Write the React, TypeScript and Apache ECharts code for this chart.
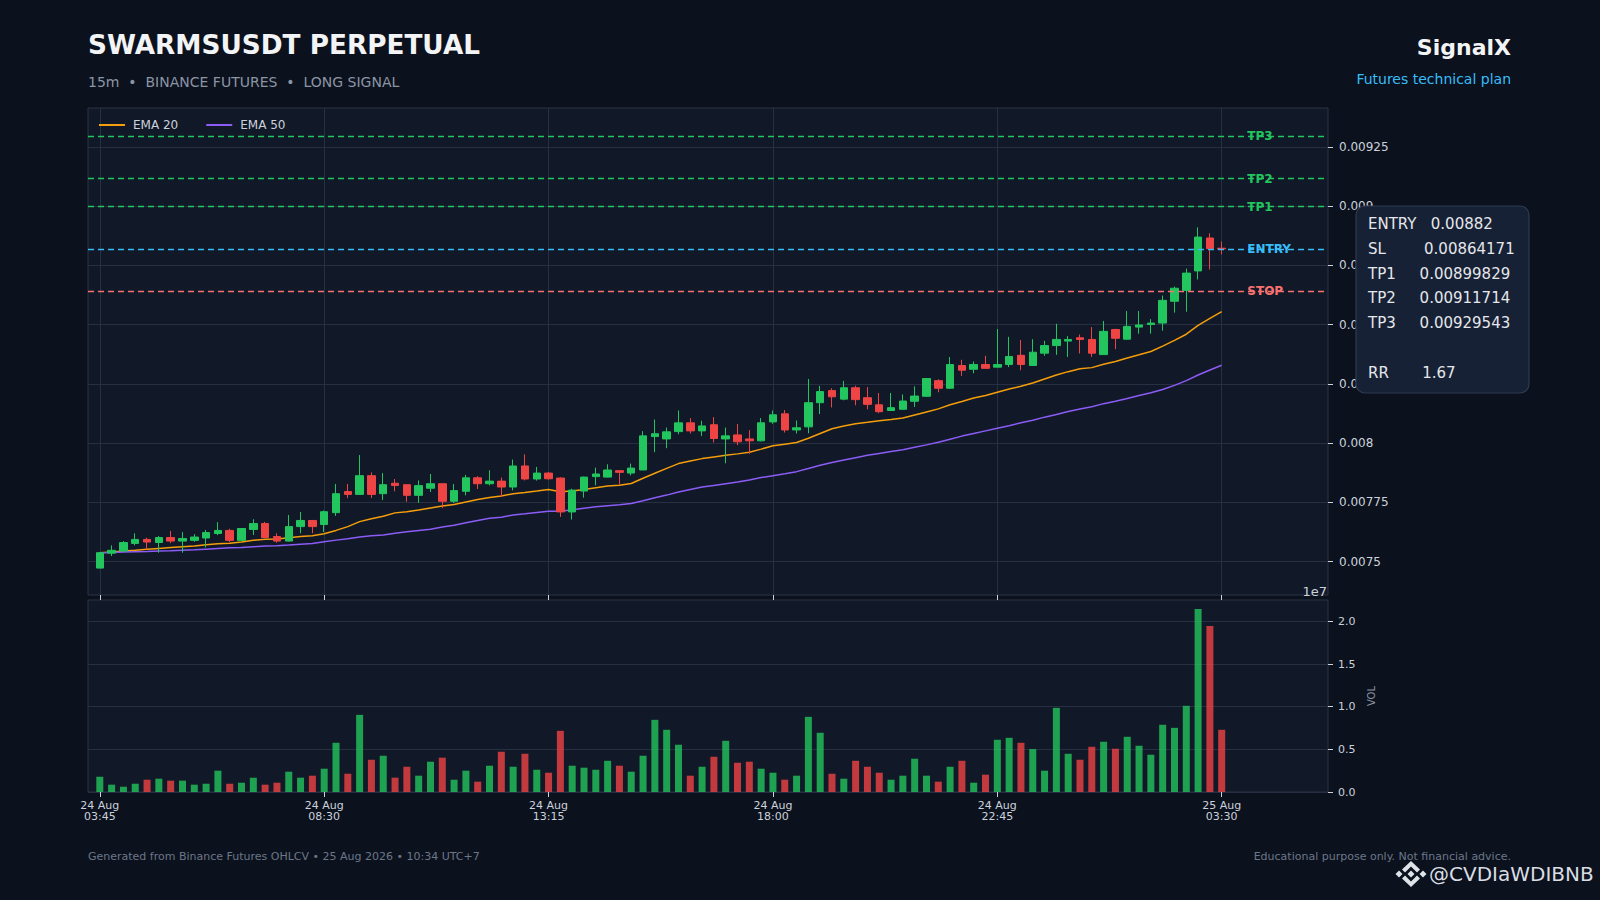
import React, { useEffect, useRef } from "react";
import * as echarts from "echarts";

const FONT = '"DejaVu Sans", "Noto Sans", sans-serif';
const BG = "#0b111d";
const PLOT_BG = "#111827";
const GRID_LINE = "#263042";
const BORDER = "#2b3546";
const AXIS_TEXT = "#cbd2dc";
const UP = "#22c55e";
const DOWN = "#ef4444";

// ---- categories (15m slots, index 0 = padding before first candle) ----
const START_MINUTES = 3 * 60 + 30; // 24 Aug 03:30
const SLOT_COUNT = 106;
const CATEGORIES: string[] = [];
for (let k = 0; k < SLOT_COUNT; k++) {
  const t = START_MINUTES + 15 * k;
  const day = 24 + Math.floor(t / 1440);
  const hh = Math.floor((t % 1440) / 60);
  const mm = t % 60;
  CATEGORIES.push(`${day} Aug\n${String(hh).padStart(2, "0")}:${String(mm).padStart(2, "0")}`);
}
const TICK_LABELS = ["24 Aug\n03:45", "24 Aug\n08:30", "24 Aug\n13:15", "24 Aug\n18:00", "24 Aug\n22:45", "25 Aug\n03:30"];

// ---- OHLC (96 candles, 15m) ----
const OPEN = [
  0.007473, 0.007536, 0.007545, 0.007577, 0.007594, 0.007581, 0.007602, 0.007587, 0.00759, 0.0076,
  0.007619, 0.007632, 0.00759, 0.007636, 0.007661, 0.007606, 0.007587, 0.007648, 0.007674, 0.007657,
  0.007707, 0.007796, 0.007784, 0.007863, 0.007787, 0.007831, 0.007825, 0.00778, 0.00781, 0.007829,
  0.007755, 0.007797, 0.007854, 0.007829, 0.00784, 0.007815, 0.007904, 0.007849, 0.007874, 0.007853,
  0.00771, 0.007798, 0.007859, 0.007857, 0.007884, 0.007874, 0.007887, 0.008028, 0.008018, 0.008049,
  0.008086, 0.008052, 0.008078, 0.008018, 0.008035, 0.008018, 0.00801, 0.00809, 0.008124, 0.008056,
  0.008069, 0.008171, 0.008222, 0.008186, 0.008234, 0.008192, 0.008162, 0.008138, 0.008143, 0.008177,
  0.008198, 0.008264, 0.008232, 0.008328, 0.008312, 0.008332, 0.008321, 0.008332, 0.008371, 0.008328,
  0.00838, 0.008412, 0.008431, 0.008445, 0.008438, 0.008374, 0.00848, 0.008439, 0.00849, 0.008501,
  0.008507, 0.008599, 0.008645, 0.008727, 0.008866, 0.008823,
];
const CLOSE = [
  0.007538, 0.007548, 0.007581, 0.007594, 0.007583, 0.007602, 0.007587, 0.007598, 0.007604, 0.007623,
  0.007632, 0.00759, 0.00764, 0.007661, 0.007602, 0.007587, 0.007648, 0.007674, 0.007648, 0.007711,
  0.007787, 0.007784, 0.007863, 0.007784, 0.007825, 0.007822, 0.00778, 0.007821, 0.007829, 0.007755,
  0.0078, 0.007854, 0.007829, 0.00784, 0.007815, 0.007904, 0.007849, 0.007874, 0.00785, 0.00771,
  0.007802, 0.007857, 0.00787, 0.007887, 0.007877, 0.007895, 0.008031, 0.00804, 0.008048, 0.008086,
  0.008052, 0.008073, 0.00802, 0.008031, 0.008006, 0.00801, 0.008086, 0.00812, 0.008056, 0.008065,
  0.008171, 0.008218, 0.008196, 0.008234, 0.008184, 0.008164, 0.008133, 0.00815, 0.008178, 0.008199,
  0.008273, 0.008232, 0.008332, 0.008308, 0.008332, 0.008316, 0.008332, 0.008366, 0.008332, 0.008384,
  0.008412, 0.008438, 0.008438, 0.008438, 0.00838, 0.008472, 0.008443, 0.008493, 0.008499, 0.008507,
  0.008603, 0.008654, 0.008718, 0.00887, 0.008821, 0.00882,
];
const LOW = [
  0.007472, 0.007524, 0.007543, 0.007569, 0.007552, 0.007538, 0.007578, 0.007538, 0.007584, 0.00756,
  0.007612, 0.007583, 0.007588, 0.007613, 0.0076, 0.00758, 0.007585, 0.00762, 0.00762, 0.007625,
  0.007693, 0.007768, 0.007783, 0.007769, 0.00776, 0.007797, 0.007753, 0.007748, 0.007794, 0.007726,
  0.007747, 0.00778, 0.007807, 0.007822, 0.007773, 0.007801, 0.007843, 0.007842, 0.007846, 0.007689,
  0.007678, 0.00777, 0.007822, 0.007856, 0.007826, 0.007864, 0.007887, 0.007962, 0.007979, 0.008038,
  0.008041, 0.00803, 0.008003, 0.007915, 0.007992, 0.007955, 0.008008, 0.008082, 0.008045, 0.008041,
  0.008042, 0.008123, 0.008151, 0.008181, 0.00816, 0.008143, 0.008127, 0.008136, 0.008141, 0.008153,
  0.008196, 0.008215, 0.00823, 0.008284, 0.008295, 0.008315, 0.00832, 0.008321, 0.008308, 0.008326,
  0.008369, 0.008373, 0.008364, 0.008379, 0.008364, 0.008373, 0.008397, 0.008438, 0.008462, 0.008462,
  0.008475, 0.008551, 0.008555, 0.008691, 0.008733, 0.008797,
];
const HIGH = [
  0.007539, 0.007569, 0.007587, 0.00762, 0.007601, 0.007608, 0.00763, 0.007625, 0.007616, 0.007634,
  0.007667, 0.007639, 0.007641, 0.007679, 0.007668, 0.00762, 0.007697, 0.00771, 0.007676, 0.007716,
  0.007828, 0.007828, 0.00795, 0.007877, 0.007874, 0.007849, 0.007826, 0.007843, 0.00787, 0.00783,
  0.007828, 0.007866, 0.007861, 0.007886, 0.007855, 0.007931, 0.007953, 0.0079, 0.007879, 0.007856,
  0.007808, 0.007859, 0.007897, 0.007911, 0.007886, 0.007914, 0.008051, 0.0081, 0.008066, 0.008138,
  0.008106, 0.008095, 0.00811, 0.008066, 0.008081, 0.008055, 0.008106, 0.008138, 0.00814, 0.008096,
  0.008271, 0.008242, 0.008232, 0.008263, 0.008243, 0.008237, 0.008212, 0.008212, 0.008206, 0.00824,
  0.008274, 0.00827, 0.008364, 0.008352, 0.008345, 0.008369, 0.008482, 0.008449, 0.008436, 0.008439,
  0.008432, 0.008504, 0.008452, 0.008459, 0.00849, 0.008516, 0.008483, 0.008558, 0.008558, 0.008524,
  0.008623, 0.008661, 0.008737, 0.008911, 0.008886, 0.008852,
];
const VOLUME = [
  1790000, 860000, 620000, 970000, 1440000, 1560000, 1330000, 1330000, 860000, 970000,
  2500000, 970000, 1090000, 1680000, 860000, 1090000, 2380000, 1680000, 1910000, 2730000,
  5770000, 2140000, 9040000, 3780000, 4250000, 1680000, 2960000, 1910000, 3550000, 4020000,
  1440000, 2500000, 1210000, 3080000, 4720000, 2960000, 4480000, 2610000, 2260000, 7170000,
  3080000, 2850000, 2610000, 3660000, 3080000, 2380000, 4250000, 8460000, 7290000, 5540000,
  1910000, 2960000, 4130000, 6000000, 3430000, 3550000, 2730000, 2260000, 1440000, 1910000,
  8810000, 6940000, 2140000, 1560000, 3660000, 2960000, 2260000, 1440000, 1910000, 3900000,
  1910000, 1210000, 2960000, 3660000, 1090000, 2030000, 6120000, 6350000, 5770000, 5030000,
  2500000, 9860000, 4480000, 3780000, 5300000, 5890000, 5070000, 6470000, 5420000, 4370000,
  7880000, 7520000, 10100000, 21440000, 19450000, 7290000,
];
const EMA20 = [
  0.007538, 0.007541, 0.007545, 0.007548, 0.007552, 0.007556, 0.00756, 0.007563, 0.007566, 0.007571,
  0.007576, 0.007578, 0.007583, 0.00759, 0.007595, 0.007596, 0.007601, 0.007606, 0.007609, 0.007618,
  0.007632, 0.007648, 0.007669, 0.007681, 0.007692, 0.007706, 0.007711, 0.007718, 0.007727, 0.007735,
  0.007741, 0.007752, 0.007762, 0.007771, 0.007777, 0.007787, 0.007792, 0.007798, 0.007805, 0.007795,
  0.007798, 0.007805, 0.007812, 0.007819, 0.007823, 0.00783, 0.007852, 0.007873, 0.007894, 0.007914,
  0.007925, 0.007935, 0.007942, 0.007949, 0.007955, 0.007962, 0.007975, 0.007989, 0.007996, 0.008003,
  0.008021, 0.008041, 0.008061, 0.008073, 0.008082, 0.008088, 0.008095, 0.0081, 0.008106, 0.008119,
  0.008132, 0.008145, 0.008162, 0.008176, 0.008191, 0.008201, 0.008215, 0.008229, 0.00824, 0.008254,
  0.008271, 0.008288, 0.008302, 0.008314, 0.008319, 0.008333, 0.008345, 0.00836, 0.008373, 0.008387,
  0.00841, 0.008434, 0.00846, 0.008497, 0.008527, 0.008555,
];
const EMA50 = [
  0.007538, 0.007539, 0.007541, 0.007542, 0.007543, 0.007545, 0.007546, 0.007548, 0.00755, 0.007553,
  0.007556, 0.007559, 0.00756, 0.007563, 0.007566, 0.007567, 0.00757, 0.007574, 0.007577, 0.007584,
  0.007591, 0.007597, 0.007604, 0.007609, 0.007613, 0.00762, 0.007626, 0.007632, 0.007637, 0.007646,
  0.007654, 0.007664, 0.007674, 0.007683, 0.007688, 0.007697, 0.007702, 0.007708, 0.007713, 0.007713,
  0.007719, 0.007726, 0.007732, 0.007736, 0.00774, 0.007746, 0.007757, 0.00777, 0.007781, 0.007794,
  0.007805, 0.007815, 0.007822, 0.007829, 0.007836, 0.007845, 0.007855, 0.007863, 0.007871, 0.00788,
  0.007893, 0.007907, 0.007919, 0.007929, 0.007939, 0.007949, 0.007957, 0.007965, 0.007972, 0.007983,
  0.007993, 0.008004, 0.008017, 0.00803, 0.008041, 0.008052, 0.008063, 0.008074, 0.008086, 0.008097,
  0.00811, 0.008121, 0.008134, 0.008144, 0.008154, 0.008167, 0.008177, 0.008189, 0.008201, 0.008213,
  0.008227, 0.008244, 0.008264, 0.008288, 0.008309, 0.008329,
];

// ---- trade levels ----
const LEVEL_NAMES = ["TP3", "TP2", "TP1", "ENTRY", "STOP"];
const LEVEL_VALUES = [0.00929543, 0.00911714, 0.00899829, 0.00882, 0.00864171];
const LEVEL_COLORS = [UP, UP, UP, "#38bdf8", "#f87171"];
const ENTRY = 0.00882;
const SL = 0.00864171;
const TP1 = 0.00899829;
const TP2 = 0.00911714;
const TP3 = 0.00929543;
const RR = 1.67;

// ---- axes ----
const PRICE_MIN = 0.0073594;
const PRICE_MAX = 0.0094147;
const PRICE_TICKS = [0.0075, 0.00775, 0.008, 0.00825, 0.0085, 0.00875, 0.009, 0.00925];
// tick labels that sit behind the plan box: only their first characters show
const COVERED_TICKS = [0.00825, 0.0085, 0.00875];
const VOL_MAX = 22500000;
const VOL_TICKS = [0, 5000000, 10000000, 15000000, 20000000];

const FIRST_SLOT = 1;
const LABEL_SLOT = 98;

function buildOption() {
  const candleData = OPEN.map((o, i) => [i + FIRST_SLOT, o, CLOSE[i], LOW[i], HIGH[i]]);
  const ema20Data = EMA20.map((v, i) => [i + FIRST_SLOT, v]);
  const ema50Data = EMA50.map((v, i) => [i + FIRST_SLOT, v]);
  const volData = VOLUME.map((v, i) => ({
    value: [i + FIRST_SLOT, v],
    itemStyle: { color: CLOSE[i] >= OPEN[i] ? UP : DOWN, opacity: 0.8 },
  }));
  const isTick = (idx: number) => TICK_LABELS.indexOf(CATEGORIES[idx]) >= 0;

  const fullLines = LEVEL_NAMES.map((n, k) => ({
    name: n,
    yAxis: LEVEL_VALUES[k],
    lineStyle: { color: LEVEL_COLORS[k], type: [6, 4], width: 1.3, opacity: 1 },
    label: { show: false },
  }));
  const labelLines = LEVEL_NAMES.map((n, k) => [
    {
      coord: [LABEL_SLOT, LEVEL_VALUES[k]],
      name: n,
      lineStyle: { color: "rgba(0,0,0,0)", width: 0, opacity: 1 },
      label: {
        show: true,
        position: "insideStart",
        distance: 2,
        formatter: n,
        color: LEVEL_COLORS[k],
        fontWeight: "bold",
        fontSize: 12,
        fontFamily: FONT,
      },
    },
    { coord: [SLOT_COUNT - 1, LEVEL_VALUES[k]] },
  ]);

  const boxLines = [
    `ENTRY   ${ENTRY}`,
    `SL        ${SL}`,
    `TP1     ${TP1}`,
    `TP2     ${TP2}`,
    `TP3     ${TP3}`,
    ``,
    `RR       ${RR.toFixed(2)}`,
  ];

  const catAxisBase = {
    type: "category",
    data: CATEGORIES,
    boundaryGap: false,
    axisLine: { show: false },
    axisTick: {
      show: true,
      length: 5,
      interval: (idx: number) => isTick(idx),
      lineStyle: { color: AXIS_TEXT, width: 1 },
    },
  };

  const priceLabel = (v: number) => {
    const s = String(parseFloat(v.toFixed(6)));
    return COVERED_TICKS.some((c) => Math.abs(c - v) < 1e-9) ? s.slice(0, 3) : s;
  };

  return {
    animation: false,
    backgroundColor: BG,
    textStyle: { fontFamily: FONT },
    grid: [
      { left: 88, right: 272, top: 108, height: 487, show: true, backgroundColor: PLOT_BG, borderColor: BORDER, borderWidth: 1 },
      { left: 88, right: 272, top: 600, height: 192, show: true, backgroundColor: PLOT_BG, borderColor: BORDER, borderWidth: 1 },
    ],
    legend: {
      data: ["EMA 20", "EMA 50"],
      left: 94,
      top: 114,
      icon: "rect",
      itemWidth: 26,
      itemHeight: 2,
      itemGap: 28,
      textStyle: { color: AXIS_TEXT, fontSize: 12, fontFamily: FONT, padding: [0, 0, 0, 3] },
    },
    xAxis: [
      {
        ...catAxisBase,
        gridIndex: 0,
        axisLabel: { show: false },
        splitLine: { show: true, interval: (idx: number) => isTick(idx), lineStyle: { color: GRID_LINE, width: 1 } },
      },
      {
        ...catAxisBase,
        gridIndex: 1,
        axisLabel: {
          show: true,
          interval: (idx: number) => isTick(idx),
          color: AXIS_TEXT,
          fontSize: 11,
          lineHeight: 11,
          margin: 8,
          fontFamily: FONT,
        },
        splitLine: { show: false },
      },
    ],
    yAxis: [
      {
        type: "value",
        gridIndex: 0,
        position: "right",
        min: PRICE_MIN,
        max: PRICE_MAX,
        axisLine: { show: false },
        axisTick: { show: true, length: 5, customValues: PRICE_TICKS, lineStyle: { color: AXIS_TEXT } },
        axisLabel: {
          customValues: PRICE_TICKS,
          formatter: priceLabel,
          color: AXIS_TEXT,
          fontSize: 12,
          margin: 11,
          fontFamily: FONT,
        },
        splitLine: { show: true, lineStyle: { color: GRID_LINE, width: 1 } },
      },
      {
        type: "value",
        gridIndex: 1,
        position: "right",
        min: 0,
        max: VOL_MAX,
        name: "VOL",
        nameLocation: "middle",
        nameRotate: 90,
        nameGap: 34,
        nameTextStyle: { color: "#8b95a5", fontSize: 10, fontFamily: FONT },
        axisLine: { show: false },
        axisTick: { show: true, length: 5, customValues: VOL_TICKS, lineStyle: { color: AXIS_TEXT } },
        axisLabel: {
          customValues: VOL_TICKS,
          formatter: (v: number) => (v / 1e7).toFixed(1),
          color: AXIS_TEXT,
          fontSize: 11,
          margin: 10,
          fontFamily: FONT,
        },
        splitLine: { show: true, lineStyle: { color: GRID_LINE, width: 1 } },
      },
    ],
    series: [
      {
        name: "Levels",
        type: "line",
        xAxisIndex: 0,
        yAxisIndex: 0,
        data: [],
        symbol: "none",
        markLine: {
          silent: true,
          precision: 10,
          symbol: ["none", "none"],
          animation: false,
          data: [...fullLines, ...labelLines],
        },
        z: 4,
      },
      {
        name: "Price",
        type: "candlestick",
        xAxisIndex: 0,
        yAxisIndex: 0,
        data: candleData,
        encode: { x: 0, y: [1, 2, 3, 4] },
        barWidth: 8,
        itemStyle: { color: UP, color0: DOWN, borderColor: UP, borderColor0: DOWN, borderWidth: 1 },
        z: 3,
      },
      {
        name: "EMA 20",
        type: "line",
        xAxisIndex: 0,
        yAxisIndex: 0,
        data: ema20Data,
        showSymbol: false,
        symbol: "none",
        color: "#f59e0b",
        lineStyle: { color: "#f59e0b", width: 1.5 },
        z: 2,
      },
      {
        name: "EMA 50",
        type: "line",
        xAxisIndex: 0,
        yAxisIndex: 0,
        data: ema50Data,
        showSymbol: false,
        symbol: "none",
        color: "#8b5cf6",
        lineStyle: { color: "#8b5cf6", width: 1.5 },
        z: 2,
      },
      {
        name: "Volume",
        type: "bar",
        xAxisIndex: 1,
        yAxisIndex: 1,
        data: volData,
        barWidth: 7,
      },
    ],
    graphic: [
      {
        type: "text",
        z: 100,
        x: 88,
        y: 45,
        style: { text: "SWARMSUSDT PERPETUAL", fill: "#f3f4f6", font: `bold 26.3px ${FONT}`, verticalAlign: "middle" },
      },
      {
        type: "text",
        z: 100,
        x: 88,
        y: 81.5,
        style: { text: "15m  •  BINANCE FUTURES  •  LONG SIGNAL", fill: "#8b95a5", font: `14px ${FONT}`, verticalAlign: "middle" },
      },
      {
        type: "text",
        z: 100,
        x: 1511,
        y: 47,
        style: { text: "SignalX", fill: "#f3f4f6", font: `bold 22px ${FONT}`, align: "right", verticalAlign: "middle" },
      },
      {
        type: "text",
        z: 100,
        x: 1511,
        y: 78.5,
        style: { text: "Futures technical plan", fill: "#38bdf8", font: `14px ${FONT}`, align: "right", verticalAlign: "middle" },
      },
      {
        type: "rect",
        z: 100,
        shape: { x: 1356, y: 206, width: 173, height: 187, r: 9 },
        style: { fill: "#172135", stroke: "#2f3b4f", lineWidth: 1.2 },
      },
      {
        type: "text",
        z: 101,
        x: 1368,
        y: 211.6,
        style: {
          text: boxLines.join("\n"),
          fill: "#e5e7eb",
          font: `15px ${FONT}`,
          lineHeight: 24.8,
          verticalAlign: "top",
        },
      },
      {
        type: "text",
        z: 100,
        x: 1327,
        y: 591,
        style: { text: "1e7", fill: AXIS_TEXT, font: `13px ${FONT}`, align: "right", verticalAlign: "middle" },
      },
      {
        type: "text",
        z: 100,
        x: 88,
        y: 856,
        style: {
          text: "Generated from Binance Futures OHLCV • 25 Aug 2026 • 10:34 UTC+7",
          fill: "#6b7789",
          font: `11px ${FONT}`,
          verticalAlign: "middle",
        },
      },
      {
        type: "text",
        z: 100,
        x: 1511,
        y: 856,
        style: {
          text: "Educational purpose only. Not financial advice.",
          fill: "#6b7789",
          font: `11px ${FONT}`,
          align: "right",
          verticalAlign: "middle",
        },
      },
      // watermark logo
      {
        type: "group",
        z: 100,
        children: [
          { type: "polygon", shape: { points: [[1411, 861], [1420, 869.5], [1417, 872.5], [1411, 866.5], [1405, 872.5], [1402, 869.5]] }, style: { fill: "#dfe3e8" } },
          { type: "polygon", shape: { points: [[1411, 887], [1420, 878.5], [1417, 875.5], [1411, 881.5], [1405, 875.5], [1402, 878.5]] }, style: { fill: "#dfe3e8" } },
          { type: "polygon", shape: { points: [[1411, 870.5], [1414.5, 874], [1411, 877.5], [1407.5, 874]] }, style: { fill: "#dfe3e8" } },
          { type: "polygon", shape: { points: [[1399, 870.5], [1402.5, 874], [1399, 877.5], [1395.5, 874]] }, style: { fill: "#dfe3e8" } },
          { type: "polygon", shape: { points: [[1423, 870.5], [1426.5, 874], [1423, 877.5], [1419.5, 874]] }, style: { fill: "#dfe3e8" } },
        ],
      },
      {
        type: "text",
        z: 100,
        x: 1429,
        y: 874,
        style: { text: "@CVDIaWDIBNB", fill: "#d9dde3", font: `20px ${FONT}`, verticalAlign: "middle" },
      },
    ],
  };
}

export default function App() {
  const ref = useRef<HTMLDivElement>(null);
  useEffect(() => {
    document.body.style.margin = "0";
    const chart = echarts.init(ref.current as HTMLDivElement, null, { renderer: "svg" });
    chart.setOption(buildOption() as any);
    return () => {
      chart.dispose();
    };
  }, []);
  return (
    <div
      ref={ref}
      style={{ position: "fixed", left: 0, top: 0, width: 1600, height: 900, background: BG }}
    />
  );
}
